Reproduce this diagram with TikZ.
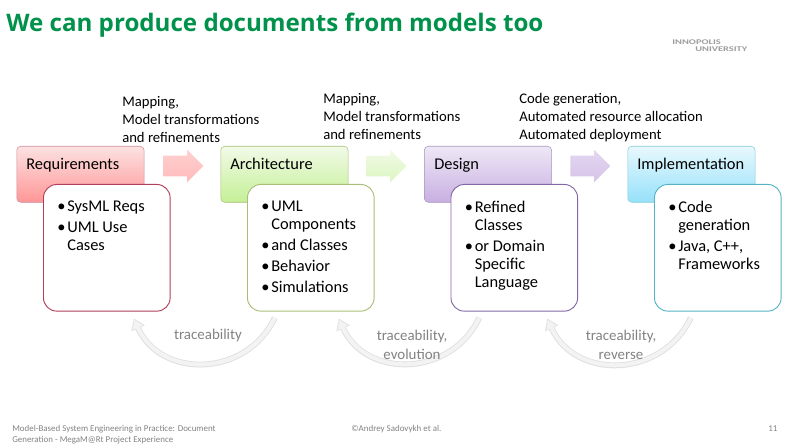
\documentclass[tikz,border=0pt]{standalone}
\usepackage{fontspec}
\setmainfont{Carlito}
\newfontfamily\titlefont{Open Sans}
\definecolor{titlegreen}{RGB}{0,145,75}
\definecolor{reqline}{RGB}{176,64,90}
\definecolor{reqdark}{RGB}{255,150,150}
\definecolor{reqlight}{RGB}{252,226,226}
\definecolor{archline}{RGB}{170,190,120}
\definecolor{archdark}{RGB}{196,240,150}
\definecolor{archlight}{RGB}{242,250,232}
\definecolor{desline}{RGB}{130,105,165}
\definecolor{desdark}{RGB}{200,175,225}
\definecolor{deslight}{RGB}{238,232,246}
\definecolor{implline}{RGB}{85,180,195}
\definecolor{impldark}{RGB}{150,225,250}
\definecolor{impllight}{RGB}{232,248,253}
\definecolor{soft}{RGB}{130,130,130}
\definecolor{trace}{RGB}{243,243,243}
\definecolor{traceline}{RGB}{224,224,224}
\usetikzlibrary{arrows.meta,positioning,calc,shapes.arrows}
\newcommand{\bitem}[1]{\hangindent=7.5pt\hangafter=1\noindent\makebox[7.5pt][l]{\textbullet}#1\par}
\tikzset{
  header/.style={rounded corners=3pt,minimum width=95.5pt,minimum height=42pt,anchor=north west,inner sep=0pt},
  body/.style={rounded corners=10pt,fill=white,minimum width=95pt,minimum height=95pt,anchor=north west,inner sep=0pt,line width=.7pt},
  headtext/.style={anchor=base west,inner sep=0pt,font=\fontsize{12.3}{13}\selectfont},
  bodytext/.style={anchor=north west,inner sep=0pt,text width=76pt,align=flush left,font=\fontsize{12.3}{13.5}\selectfont\setlength{\parskip}{2.25pt}},
  note/.style={anchor=north west,inner sep=0pt,align=left,font=\fontsize{11}{13.3}\selectfont},
  tracetext/.style={inner sep=0pt,align=center,text=soft,font=\fontsize{11.2}{14.2}\selectfont},
  footer/.style={inner sep=0pt,anchor=north west,align=left,text=soft,font=\fontsize{6.7}{8.2}\selectfont},
  logotext/.style={inner sep=0pt,anchor=west,xscale=1.45,transform shape,text=soft!120!black,font=\bfseries\fontsize{5.4}{5.6}\selectfont},
  blockarrow/.style={single arrow,minimum height=30pt,inner xsep=0pt,inner ysep=7.5pt,single arrow head extend=4.5pt,anchor=west}
}
\begin{document}
\begin{tikzpicture}[x=.75pt,y=.75pt]
  \useasboundingbox (0,0) rectangle (792,446);
  \node[anchor=west,inner sep=0pt,text=titlegreen,font=\titlefont\bfseries\fontsize{18.1}{20}\selectfont] (title) at (6,421) {We can produce documents from models too};
  \node[logotext] (logoa) at (672,404) {INNOPOLIS};
  \node[logotext] (logob) at (695,397) {UNIVERSITY};

  % stages
  \node[header,draw=reqline!60,top color=reqlight,bottom color=reqdark] (req) at (16.5,300) {};
  \node[header,draw=archline,top color=archlight,bottom color=archdark] (arch) at (220.5,300) {};
  \node[header,draw=desline!70,top color=deslight,bottom color=desdark] (des) at (424,300) {};
  \node[header,draw=implline!70,top color=impllight,bottom color=impldark] (impl) at (627.5,300) {};
  \node[headtext] (reqlabel) at (26,276.5) {Requirements};
  \node[headtext] (archlabel) at (230,276.5) {Architecture};
  \node[headtext] (deslabel) at (434,276.5) {Design};
  \node[headtext] (impllabel) at (637,276.5) {Implementation};

  \node[body,draw=reqline] (reqbody) at (43,262) {};
  \node[body,draw=archline] (archbody) at (247,262) {};
  \node[body,draw=desline] (desbody) at (450.5,262) {};
  \node[body,draw=implline] (implbody) at (654,262) {};

  \node[bodytext] (reqtext) at ($(reqbody.north west)+(14,-16.5)$) {\bitem{SysML Reqs}\bitem{UML Use Cases}};
  \node[bodytext] (archtext) at ($(archbody.north west)+(14,-16.5)$) {\bitem{UML Components}\bitem{and Classes}\bitem{Behavior}\bitem{Simulations}};
  \node[bodytext] (destext) at ($(desbody.north west)+(14,-16.5)$) {\bitem{Refined Classes}\bitem{or Domain Specific Language}};
  \node[bodytext] (impltext) at ($(implbody.north west)+(14,-16.5)$) {\bitem{Code generation}\bitem{Java, C++, Frameworks}};

  % arrows between stages
  \node[blockarrow,top color=reqdark!45,bottom color=reqdark!65] (step1) at (163,280) {};
  \node[blockarrow,top color=archlight,bottom color=archdark!60] (step2) at (366,280) {};
  \node[blockarrow,top color=desdark!50,bottom color=desdark!75] (step3) at (570,280) {};

  \node[note] (map1) at (122,349.5) {Mapping,\\Model transformations\\and refinements};
  \node[note] (map2) at (323,352.5) {Mapping,\\Model transformations\\and refinements};
  \node[note] (map3) at (519,352.5) {Code generation,\\Automated resource allocation\\Automated deployment};

  % traceability arcs
  \coordinate (back1a) at ($(archbody.south)+(-36,-6)$);
  \coordinate (back1b) at ($(reqbody.south)+(27,-7)$);
  \coordinate (back2a) at ($(desbody.south)+(-35,-6)$);
  \coordinate (back2b) at ($(archbody.south)+(28,-7)$);
  \coordinate (back3a) at ($(implbody.south)+(-27,-6)$);
  \coordinate (back3b) at ($(desbody.south)+(33,-7)$);
  \foreach \a/\b in {back1a/back1b,back2a/back2b,back3a/back3b}{
    \draw[traceline,line width=4.4pt,-{Triangle[length=8pt,width=10.5pt]}] (\a) to[out=-115,in=-66,looseness=1.2] (\b);
    \draw[trace,line width=3pt,shorten >=1pt,-{Triangle[length=6.5pt,width=8pt]}] (\a) to[out=-115,in=-66,looseness=1.2] (\b);
  }
  \node[tracetext] (trace1) at (208,110) {traceability};
  \node[tracetext] (trace2) at (412,101) {traceability,\\evolution};
  \node[tracetext] (trace3) at (621,101) {traceability,\\reverse};

  \node[footer] (foot) at (12,21) {Model-Based System Engineering in Practice: Document\\Generation - MegaM@Rt Project Experience};
  \node[footer] (authors) at (351,21) {©Andrey Sadovykh et al.};
  \node[footer] (page) at (768,21) {11};
\end{tikzpicture}
\end{document}
